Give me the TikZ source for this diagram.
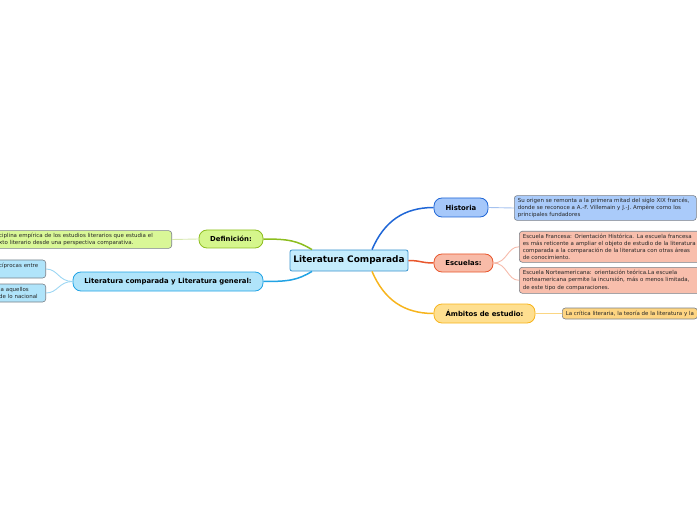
\documentclass[tikz,border=0pt]{standalone}
\usepackage{fontspec}
\setmainfont{DejaVu Sans}
\definecolor{centrefill}{HTML}{C4ECFC}
\definecolor{centreline}{HTML}{3C93CC}
\definecolor{histfill}{HTML}{A6C8FA}
\definecolor{histline}{HTML}{1F66D6}
\definecolor{escfill}{HTML}{F8BBA8}
\definecolor{escline}{HTML}{E8562C}
\definecolor{ambfill}{HTML}{FEDF90}
\definecolor{ambline}{HTML}{F7B41C}
\definecolor{deffill}{HTML}{D5F68C}
\definecolor{defline}{HTML}{8CBD1E}
\definecolor{genfill}{HTML}{B0E4FA}
\definecolor{genline}{HTML}{22A3E4}
\definecolor{leafline}{HTML}{7A8088}
\begin{document}
\begin{tikzpicture}[x=1bp,y=-1bp,
    centre/.style={fill=centrefill,draw=centreline,line width=0.8bp,rounded corners=2bp,
      inner sep=0pt,minimum width=118bp,minimum height=21bp,
      font=\bfseries\fontsize{9}{10}\selectfont},
    branch/.style 2 args={fill=#1,draw=#2,line width=0.8bp,rounded corners=8bp,
      inner sep=0pt,minimum height=19bp,font=\bfseries\fontsize{6.9}{8}\selectfont},
    leaf/.style={fill=#1,draw=leafline,line width=0.6bp,rounded corners=3bp,
      align=left,inner xsep=3.5bp,inner ysep=2.5bp,text=black!85,
      font=\fontsize{5.5}{7.2}\selectfont},
    mainline/.style={line width=1.5bp,#1},
    twig/.style={line width=0.9bp,#1}]
\useasboundingbox (0,0) rectangle (697,520);
\clip (0,0) rectangle (697,520);

% centre and first ring
\node[centre] (lc) at (349,260.5) {Literatura Comparada};
\node[branch={histfill}{histline},minimum width=54bp] (hist) at (461,207.5) {Historia};
\node[branch={escfill}{escline},minimum width=59bp,minimum height=18bp] (esc) at (463.5,263) {Escuelas:};
\node[branch={ambfill}{ambline},minimum width=101bp] (amb) at (484.5,313.5) {Ámbitos de estudio:};
\node[branch={deffill}{defline},minimum width=64bp,minimum height=18bp] (defi) at (231,239) {Definición:};
\node[branch={genfill}{genline},minimum width=190bp] (gen) at (168,281.5) {Literatura comparada y Literatura general:};

% leaves
\node[leaf=histfill!95!white,anchor=west,text width=175bp,minimum height=24bp] (histtxt) at (514,208)
  {Su origen se remonta a la primera mitad del siglo XIX francés,\\
   donde se reconoce a A.-F. Villemain y J.-J. Ampère como los\\
   principales fundadores};
\node[leaf=escfill!95!white,anchor=north west,text width=190bp,minimum height=31bp] (escfr) at (519,231)
  {Escuela Francesa: Orientación Histórica. La escuela francesa\\
   es más reticente a ampliar el objeto de estudio de la literatura\\
   comparada a la comparación de la literatura con otras áreas\\
   de conocimiento.};
\node[leaf=escfill!95!white,anchor=north west,text width=190bp,minimum height=26bp] (escna) at (519,267)
  {Escuela Norteamericana: orientación teórica.La escuela\\
   norteamericana permite la incursión, más o menos limitada,\\
   de este tipo de comparaciones.};
\node[leaf=ambfill!90!orange,anchor=west,minimum height=11bp,inner ysep=1.5bp] (ambtxt) at (562,313.5)
  {La crítica literaria, la teoría de la literatura y la};
\node[leaf=deffill!90!white,anchor=east,text width=169bp,minimum height=17bp] (defitxt) at (172,239.5)
  {ciplina empírica de los estudios literarios que estudia el\\
   xto literario desde una perspectiva comparativa.};
\node[leaf=genfill,anchor=east,text width=43bp,minimum height=18bp] (recip) at (46,269)
  {cíprocas entre\\\mbox{}};
\node[leaf=genfill,anchor=east,text width=43bp,minimum height=18bp] (nacional) at (46,293)
  {ia aquellos\\de lo nacional};

% main connectors
\draw[mainline=histline] ([xshift=23bp]lc.north) .. controls +(12,-28) and +(-30,0) .. (hist.west);
\draw[mainline=escline] (lc.east) .. controls +(12,0) and +(-12,0) .. (esc.west);
\draw[mainline=ambline] ([xshift=23bp]lc.south) .. controls +(12,28) and +(-30,0) .. (amb.west);
\draw[mainline=defline] ([xshift=-37bp]lc.north) .. controls +(-15,-9) and +(25,0) .. (defi.east);
\draw[mainline=genline] ([xshift=-37bp]lc.south) .. controls +(-15,9) and +(25,0) .. (gen.east);

% twigs to the leaves
\draw[twig=histline!40] (hist.east) -- (histtxt.west);
\draw[twig=escline!40] (esc.east) .. controls +(14,0) and +(-12,0) .. (escfr.west);
\draw[twig=escline!40] (esc.east) .. controls +(14,0) and +(-12,0) .. (escna.west);
\draw[twig=ambline!55] (amb.east) -- (ambtxt.west);
\draw[twig=defline!35] (defi.west) -- (defitxt.east);
\draw[twig=genline!45] (gen.west) .. controls +(-14,0) and +(12,0) .. (recip.east);
\draw[twig=genline!45] (gen.west) .. controls +(-14,0) and +(12,0) .. (nacional.east);
\end{tikzpicture}
\end{document}
